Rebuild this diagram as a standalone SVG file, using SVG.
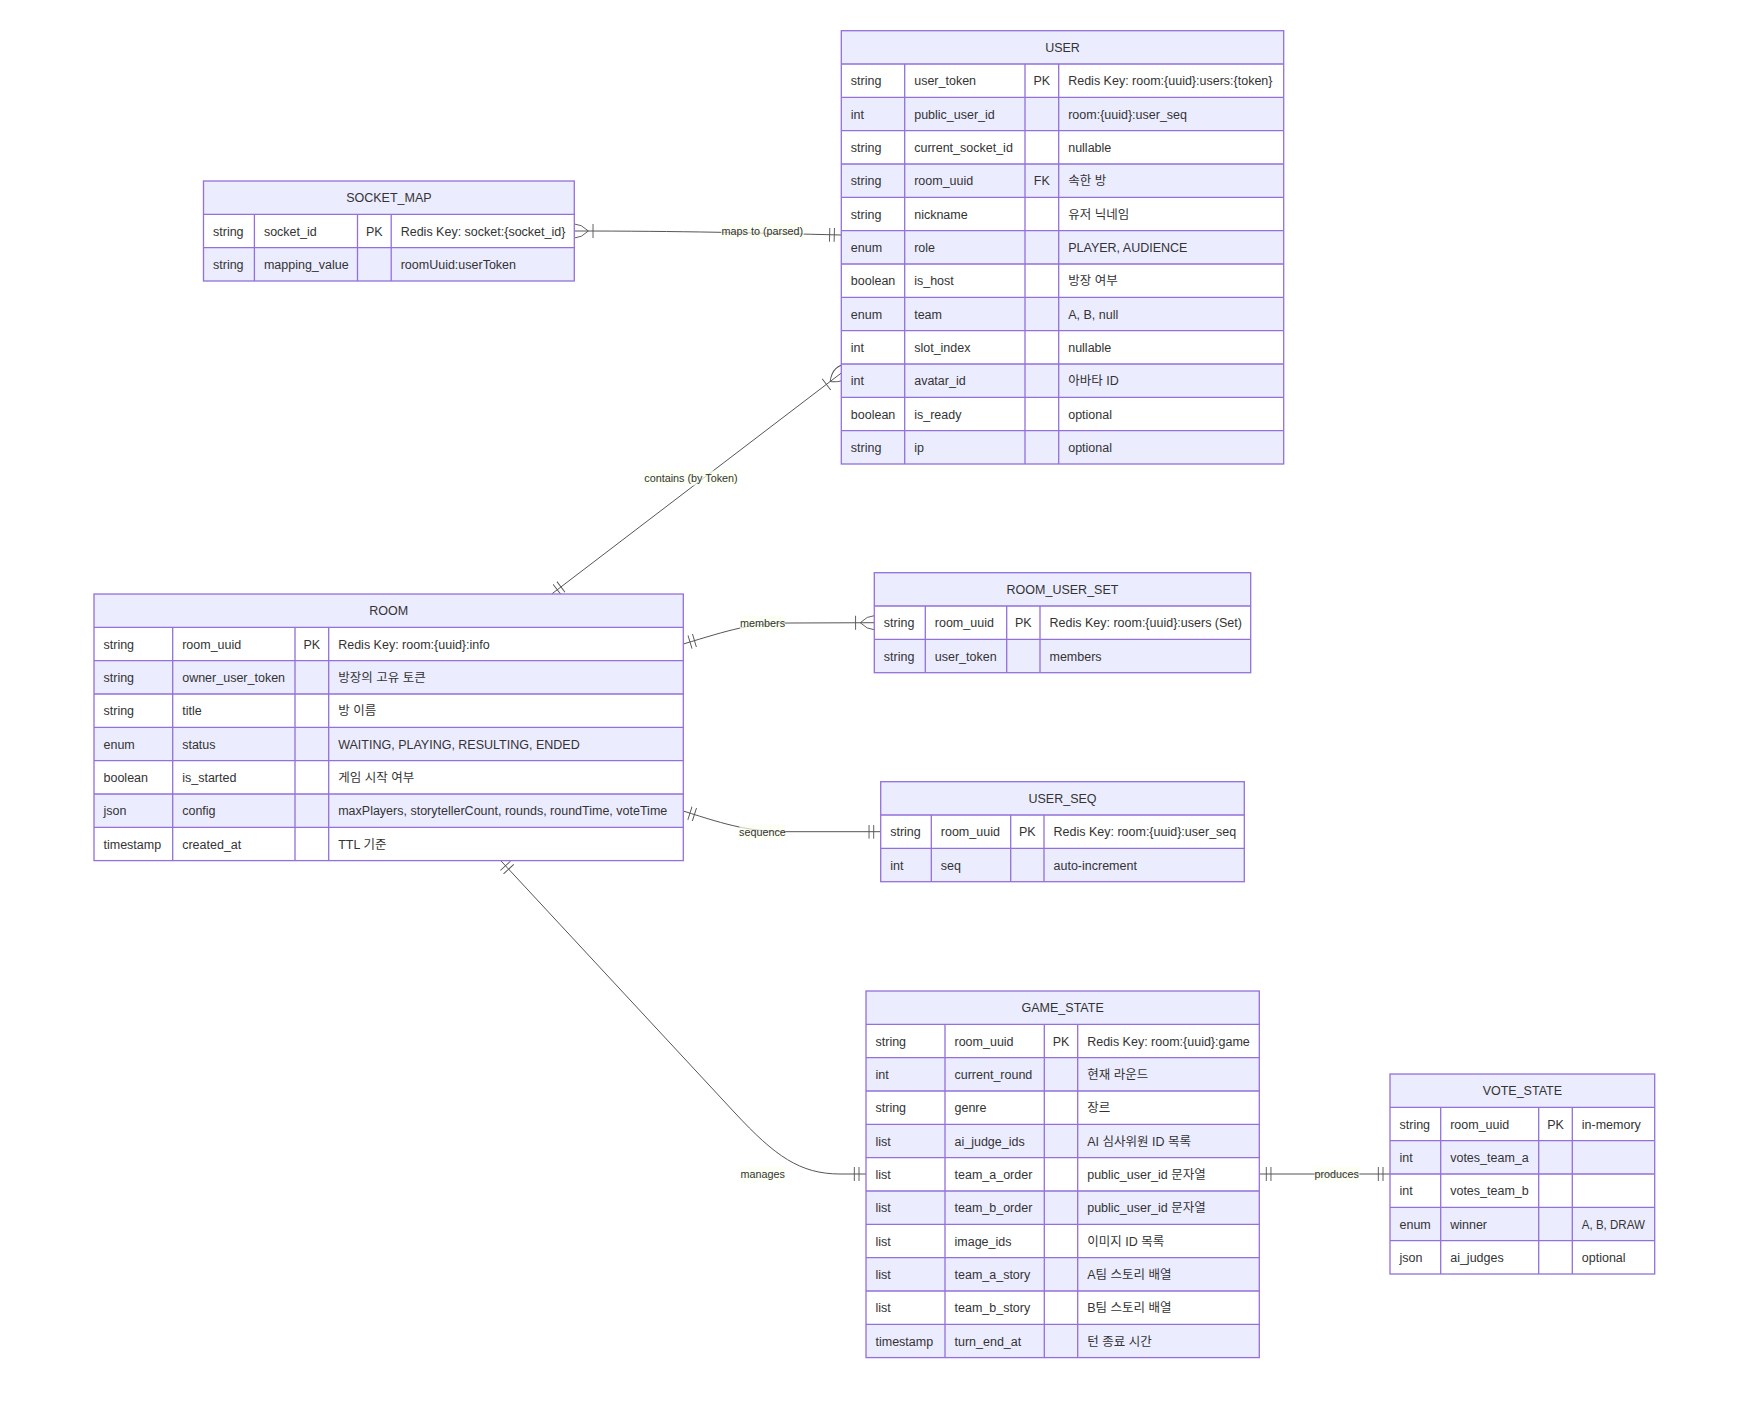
<svg xmlns="http://www.w3.org/2000/svg" width="1742" height="1405" viewBox="0 0 1742 1405">
<style>
.bg{fill:#ffffff}
.odd{fill:#ffffff}
.hd,.even{fill:#ECECFF}
.grid{fill:none;stroke:#9370DB;stroke-width:1.3}
.t{font-family:"Liberation Sans","Noto Sans CJK KR",sans-serif;font-size:12.5px;fill:#333333}
.h{text-anchor:middle}
.k{text-anchor:middle}
.edge{fill:none;stroke:#555555;stroke-width:1}
.mk{fill:none;stroke:#555555;stroke-width:1.2}
.lb{fill:#fbffee;opacity:0.7}
.lt{font-family:"Liberation Sans",sans-serif;font-size:10.8px;fill:#333333;text-anchor:middle}
</style>
<defs>
<marker id="oneStart" viewBox="0 0 18 18" markerWidth="14" markerHeight="14" refX="0" refY="9" orient="auto" markerUnits="userSpaceOnUse"><path class="mk" d="M9,0 L9,18 M15,0 L15,18"/></marker>
<marker id="oneEnd" viewBox="0 0 18 18" markerWidth="14" markerHeight="14" refX="18" refY="9" orient="auto" markerUnits="userSpaceOnUse"><path class="mk" d="M3,0 L3,18 M9,0 L9,18"/></marker>
<marker id="manyStart" viewBox="0 0 45 36" markerWidth="35.1" markerHeight="28.1" refX="18" refY="18" orient="auto" markerUnits="userSpaceOnUse"><path class="mk" d="M0,18 Q18,0 36,18 Q18,36 0,18 M42,9 L42,27"/></marker>
<marker id="manyEnd" viewBox="0 0 45 36" markerWidth="35.1" markerHeight="28.1" refX="27" refY="18" orient="auto" markerUnits="userSpaceOnUse"><path class="mk" d="M3,9 L3,27 M9,18 Q27,0 45,18 Q27,36 9,18"/></marker>
</defs>
<rect class="bg" x="0" y="0" width="1742" height="1405"/>

<g id="connectors">
<path class="edge" d="M574.3,231 C680,231 760,233 841.3,235" marker-start="url(#manyStart)" marker-end="url(#oneEnd)"/>
<path class="edge" d="M551.7,594 L841.3,373" marker-start="url(#oneStart)" marker-end="url(#manyEnd)"/>
<path class="edge" d="M683.3,644 C730,630 750,623 790,623 L874.3,622.7" marker-start="url(#oneStart)" marker-end="url(#manyEnd)"/>
<path class="edge" d="M683.3,811 C730,826 750,831.7 790,831.7 L880.7,831.7" marker-start="url(#oneStart)" marker-end="url(#oneEnd)"/>
<path class="edge" d="M500.7,860.6 L735,1113 C775,1156 800,1174 840,1174 L866,1174" marker-start="url(#oneStart)" marker-end="url(#oneEnd)"/>
<path class="edge" d="M1259.3,1174 L1390,1174" marker-start="url(#oneStart)" marker-end="url(#oneEnd)"/>
<rect class="lb" x="721" y="223.5" width="83" height="15"/><text class="lt" x="762.4" y="234.8">maps to (parsed)</text>
<rect class="lb" x="643.5" y="470.5" width="95" height="15"/><text class="lt" x="691" y="481.8">contains (by Token)</text>
<rect class="lb" x="740" y="615.5" width="45" height="15"/><text class="lt" x="762.6" y="626.8">members</text>
<rect class="lb" x="739.5" y="825" width="46" height="15"/><text class="lt" x="762.4" y="836.3">sequence</text>
<rect class="lb" x="740.5" y="1166.5" width="45" height="15"/><text class="lt" x="762.7" y="1177.8">manages</text>
<rect class="lb" x="1314.5" y="1166.5" width="45" height="15"/><text class="lt" x="1336.7" y="1177.8">produces</text>
</g>

<g id="SOCKET_MAP">
<rect class="odd" x="203.5" y="181" width="370.8" height="100"/>
<rect class="hd" x="203.5" y="181" width="370.8" height="33.3"/>
<rect class="even" x="203.5" y="247.7" width="370.8" height="33.3"/>
<path class="grid" d="M203.5,214.3H574.3M203.5,247.7H574.3M254.4,214.3V281M357.5,214.3V281M391.2,214.3V281"/>
<rect class="grid" x="203.5" y="181" width="370.8" height="100"/>
<text class="t h" x="388.9" y="202.2">SOCKET_MAP</text>
<text class="t" x="213" y="235.5">string</text><text class="t" x="263.9" y="235.5">socket_id</text><text class="t k" x="374.35" y="235.5">PK</text><text class="t" x="400.7" y="235.5">Redis Key: socket:{socket_id}</text>
<text class="t" x="213" y="268.9">string</text><text class="t" x="263.9" y="268.9">mapping_value</text><text class="t" x="400.7" y="268.9">roomUuid:userToken</text>
</g>

<g id="USER">
<rect class="odd" x="841.3" y="30.7" width="442.4" height="433.3"/>
<rect class="hd" x="841.3" y="30.7" width="442.4" height="33.3"/>
<rect class="even" x="841.3" y="97.33" width="442.4" height="33.33"/>
<rect class="even" x="841.3" y="164" width="442.4" height="33.33"/>
<rect class="even" x="841.3" y="230.67" width="442.4" height="33.33"/>
<rect class="even" x="841.3" y="297.33" width="442.4" height="33.33"/>
<rect class="even" x="841.3" y="364" width="442.4" height="33.33"/>
<rect class="even" x="841.3" y="430.67" width="442.4" height="33.33"/>
<path class="grid" d="M841.3,64H1283.7M841.3,97.33H1283.7M841.3,130.67H1283.7M841.3,164H1283.7M841.3,197.33H1283.7M841.3,230.67H1283.7M841.3,264H1283.7M841.3,297.33H1283.7M841.3,330.67H1283.7M841.3,364H1283.7M841.3,397.33H1283.7M841.3,430.67H1283.7M904.7,64V464M1025,64V464M1058.7,64V464"/>
<rect class="grid" x="841.3" y="30.7" width="442.4" height="433.3"/>
<text class="t h" x="1062.5" y="51.9">USER</text>
<text class="t" x="850.8" y="85.2">string</text><text class="t" x="914.2" y="85.2">user_token</text><text class="t k" x="1041.85" y="85.2">PK</text><text class="t" x="1068.2" y="85.2">Redis Key: room:{uuid}:users:{token}</text>
<text class="t" x="850.8" y="118.5">int</text><text class="t" x="914.2" y="118.5">public_user_id</text><text class="t" x="1068.2" y="118.5">room:{uuid}:user_seq</text>
<text class="t" x="850.8" y="151.9">string</text><text class="t" x="914.2" y="151.9">current_socket_id</text><text class="t" x="1068.2" y="151.9">nullable</text>
<text class="t" x="850.8" y="185.2">string</text><text class="t" x="914.2" y="185.2">room_uuid</text><text class="t k" x="1041.85" y="185.2">FK</text><text class="t" x="1068.2" y="185.2">속한 방</text>
<text class="t" x="850.8" y="218.5">string</text><text class="t" x="914.2" y="218.5">nickname</text><text class="t" x="1068.2" y="218.5">유저 닉네임</text>
<text class="t" x="850.8" y="251.9">enum</text><text class="t" x="914.2" y="251.9">role</text><text class="t" x="1068.2" y="251.9">PLAYER, AUDIENCE</text>
<text class="t" x="850.8" y="285.2">boolean</text><text class="t" x="914.2" y="285.2">is_host</text><text class="t" x="1068.2" y="285.2">방장 여부</text>
<text class="t" x="850.8" y="318.5">enum</text><text class="t" x="914.2" y="318.5">team</text><text class="t" x="1068.2" y="318.5">A, B, null</text>
<text class="t" x="850.8" y="351.9">int</text><text class="t" x="914.2" y="351.9">slot_index</text><text class="t" x="1068.2" y="351.9">nullable</text>
<text class="t" x="850.8" y="385.2">int</text><text class="t" x="914.2" y="385.2">avatar_id</text><text class="t" x="1068.2" y="385.2">아바타 ID</text>
<text class="t" x="850.8" y="418.5">boolean</text><text class="t" x="914.2" y="418.5">is_ready</text><text class="t" x="1068.2" y="418.5">optional</text>
<text class="t" x="850.8" y="451.9">string</text><text class="t" x="914.2" y="451.9">ip</text><text class="t" x="1068.2" y="451.9">optional</text>
</g>

<g id="ROOM">
<rect class="odd" x="94" y="594" width="589.3" height="266.6"/>
<rect class="hd" x="94" y="594" width="589.3" height="33.3"/>
<rect class="even" x="94" y="660.6" width="589.3" height="33.4"/>
<rect class="even" x="94" y="727.3" width="589.3" height="33.3"/>
<rect class="even" x="94" y="794" width="589.3" height="33.3"/>
<path class="grid" d="M94,627.3H683.3M94,660.6H683.3M94,694H683.3M94,727.3H683.3M94,760.6H683.3M94,794H683.3M94,827.3H683.3M172.7,627.3V860.6M295,627.3V860.6M328.7,627.3V860.6"/>
<rect class="grid" x="94" y="594" width="589.3" height="266.6"/>
<text class="t h" x="388.65" y="615.2">ROOM</text>
<text class="t" x="103.5" y="648.5">string</text><text class="t" x="182.2" y="648.5">room_uuid</text><text class="t k" x="311.85" y="648.5">PK</text><text class="t" x="338.2" y="648.5">Redis Key: room:{uuid}:info</text>
<text class="t" x="103.5" y="681.8">string</text><text class="t" x="182.2" y="681.8">owner_user_token</text><text class="t" x="338.2" y="681.8">방장의 고유 토큰</text>
<text class="t" x="103.5" y="715.2">string</text><text class="t" x="182.2" y="715.2">title</text><text class="t" x="338.2" y="715.2">방 이름</text>
<text class="t" x="103.5" y="748.5">enum</text><text class="t" x="182.2" y="748.5">status</text><text class="t" x="338.2" y="748.5">WAITING, PLAYING, RESULTING, ENDED</text>
<text class="t" x="103.5" y="781.8">boolean</text><text class="t" x="182.2" y="781.8">is_started</text><text class="t" x="338.2" y="781.8">게임 시작 여부</text>
<text class="t" x="103.5" y="815.2">json</text><text class="t" x="182.2" y="815.2">config</text><text class="t" x="338.2" y="815.2">maxPlayers, storytellerCount, rounds, roundTime, voteTime</text>
<text class="t" x="103.5" y="848.5">timestamp</text><text class="t" x="182.2" y="848.5">created_at</text><text class="t" x="338.2" y="848.5">TTL 기준</text>
</g>

<g id="ROOM_USER_SET">
<rect class="odd" x="874.3" y="572.7" width="376.4" height="100"/>
<rect class="hd" x="874.3" y="572.7" width="376.4" height="33.3"/>
<rect class="even" x="874.3" y="639.3" width="376.4" height="33.4"/>
<path class="grid" d="M874.3,606H1250.7M874.3,639.3H1250.7M925.3,606V672.7M1006.7,606V672.7M1040,606V672.7"/>
<rect class="grid" x="874.3" y="572.7" width="376.4" height="100"/>
<text class="t h" x="1062.5" y="593.9">ROOM_USER_SET</text>
<text class="t" x="883.8" y="627.2">string</text><text class="t" x="934.8" y="627.2">room_uuid</text><text class="t k" x="1023.35" y="627.2">PK</text><text class="t" x="1049.5" y="627.2">Redis Key: room:{uuid}:users (Set)</text>
<text class="t" x="883.8" y="660.5">string</text><text class="t" x="934.8" y="660.5">user_token</text><text class="t" x="1049.5" y="660.5">members</text>
</g>

<g id="USER_SEQ">
<rect class="odd" x="880.7" y="781.7" width="363.6" height="100"/>
<rect class="hd" x="880.7" y="781.7" width="363.6" height="33.3"/>
<rect class="even" x="880.7" y="848.3" width="363.6" height="33.4"/>
<path class="grid" d="M880.7,815H1244.3M880.7,848.3H1244.3M931.3,815V881.7M1010.7,815V881.7M1044,815V881.7"/>
<rect class="grid" x="880.7" y="781.7" width="363.6" height="100"/>
<text class="t h" x="1062.5" y="802.9">USER_SEQ</text>
<text class="t" x="890.2" y="836.2">string</text><text class="t" x="940.8" y="836.2">room_uuid</text><text class="t k" x="1027.35" y="836.2">PK</text><text class="t" x="1053.5" y="836.2">Redis Key: room:{uuid}:user_seq</text>
<text class="t" x="890.2" y="869.5">int</text><text class="t" x="940.8" y="869.5">seq</text><text class="t" x="1053.5" y="869.5">auto-increment</text>
</g>

<g id="GAME_STATE">
<rect class="odd" x="866" y="991" width="393.3" height="366.6"/>
<rect class="hd" x="866" y="991" width="393.3" height="33.3"/>
<rect class="even" x="866" y="1057.6" width="393.3" height="33.4"/>
<rect class="even" x="866" y="1124.3" width="393.3" height="33.3"/>
<rect class="even" x="866" y="1191" width="393.3" height="33.3"/>
<rect class="even" x="866" y="1257.6" width="393.3" height="33.4"/>
<rect class="even" x="866" y="1324.3" width="393.3" height="33.3"/>
<path class="grid" d="M866,1024.3H1259.3M866,1057.6H1259.3M866,1091H1259.3M866,1124.3H1259.3M866,1157.6H1259.3M866,1191H1259.3M866,1224.3H1259.3M866,1257.6H1259.3M866,1291H1259.3M866,1324.3H1259.3M945,1024.3V1357.6M1044.3,1024.3V1357.6M1077.7,1024.3V1357.6"/>
<rect class="grid" x="866" y="991" width="393.3" height="366.6"/>
<text class="t h" x="1062.65" y="1012.2">GAME_STATE</text>
<text class="t" x="875.5" y="1045.5">string</text><text class="t" x="954.5" y="1045.5">room_uuid</text><text class="t k" x="1061" y="1045.5">PK</text><text class="t" x="1087.2" y="1045.5">Redis Key: room:{uuid}:game</text>
<text class="t" x="875.5" y="1078.8">int</text><text class="t" x="954.5" y="1078.8">current_round</text><text class="t" x="1087.2" y="1078.8">현재 라운드</text>
<text class="t" x="875.5" y="1112.2">string</text><text class="t" x="954.5" y="1112.2">genre</text><text class="t" x="1087.2" y="1112.2">장르</text>
<text class="t" x="875.5" y="1145.5">list</text><text class="t" x="954.5" y="1145.5">ai_judge_ids</text><text class="t" x="1087.2" y="1145.5">AI 심사위원 ID 목록</text>
<text class="t" x="875.5" y="1178.8">list</text><text class="t" x="954.5" y="1178.8">team_a_order</text><text class="t" x="1087.2" y="1178.8">public_user_id 문자열</text>
<text class="t" x="875.5" y="1212.2">list</text><text class="t" x="954.5" y="1212.2">team_b_order</text><text class="t" x="1087.2" y="1212.2">public_user_id 문자열</text>
<text class="t" x="875.5" y="1245.5">list</text><text class="t" x="954.5" y="1245.5">image_ids</text><text class="t" x="1087.2" y="1245.5">이미지 ID 목록</text>
<text class="t" x="875.5" y="1278.8">list</text><text class="t" x="954.5" y="1278.8">team_a_story</text><text class="t" x="1087.2" y="1278.8">A팀 스토리 배열</text>
<text class="t" x="875.5" y="1312.2">list</text><text class="t" x="954.5" y="1312.2">team_b_story</text><text class="t" x="1087.2" y="1312.2">B팀 스토리 배열</text>
<text class="t" x="875.5" y="1345.5">timestamp</text><text class="t" x="954.5" y="1345.5">turn_end_at</text><text class="t" x="1087.2" y="1345.5">턴 종료 시간</text>
</g>

<g id="VOTE_STATE">
<rect class="odd" x="1390" y="1074" width="264.7" height="200"/>
<rect class="hd" x="1390" y="1074" width="264.7" height="33.3"/>
<rect class="even" x="1390" y="1140.6" width="264.7" height="33.4"/>
<rect class="even" x="1390" y="1207.3" width="264.7" height="33.3"/>
<path class="grid" d="M1390,1107.3H1654.7M1390,1140.6H1654.7M1390,1174H1654.7M1390,1207.3H1654.7M1390,1240.6H1654.7M1440.7,1107.3V1274M1538.7,1107.3V1274M1572.3,1107.3V1274"/>
<rect class="grid" x="1390" y="1074" width="264.7" height="200"/>
<text class="t h" x="1522.35" y="1095.2">VOTE_STATE</text>
<text class="t" x="1399.5" y="1128.5">string</text><text class="t" x="1450.2" y="1128.5">room_uuid</text><text class="t k" x="1555.5" y="1128.5">PK</text><text class="t" x="1581.8" y="1128.5">in-memory</text>
<text class="t" x="1399.5" y="1161.8">int</text><text class="t" x="1450.2" y="1161.8">votes_team_a</text>
<text class="t" x="1399.5" y="1195.2">int</text><text class="t" x="1450.2" y="1195.2">votes_team_b</text>
<text class="t" x="1399.5" y="1228.5">enum</text><text class="t" x="1450.2" y="1228.5">winner</text><text class="t" x="1581.8" y="1228.5" textLength="63" lengthAdjust="spacingAndGlyphs">A, B, DRAW</text>
<text class="t" x="1399.5" y="1261.8">json</text><text class="t" x="1450.2" y="1261.8">ai_judges</text><text class="t" x="1581.8" y="1261.8">optional</text>
</g>
</svg>
